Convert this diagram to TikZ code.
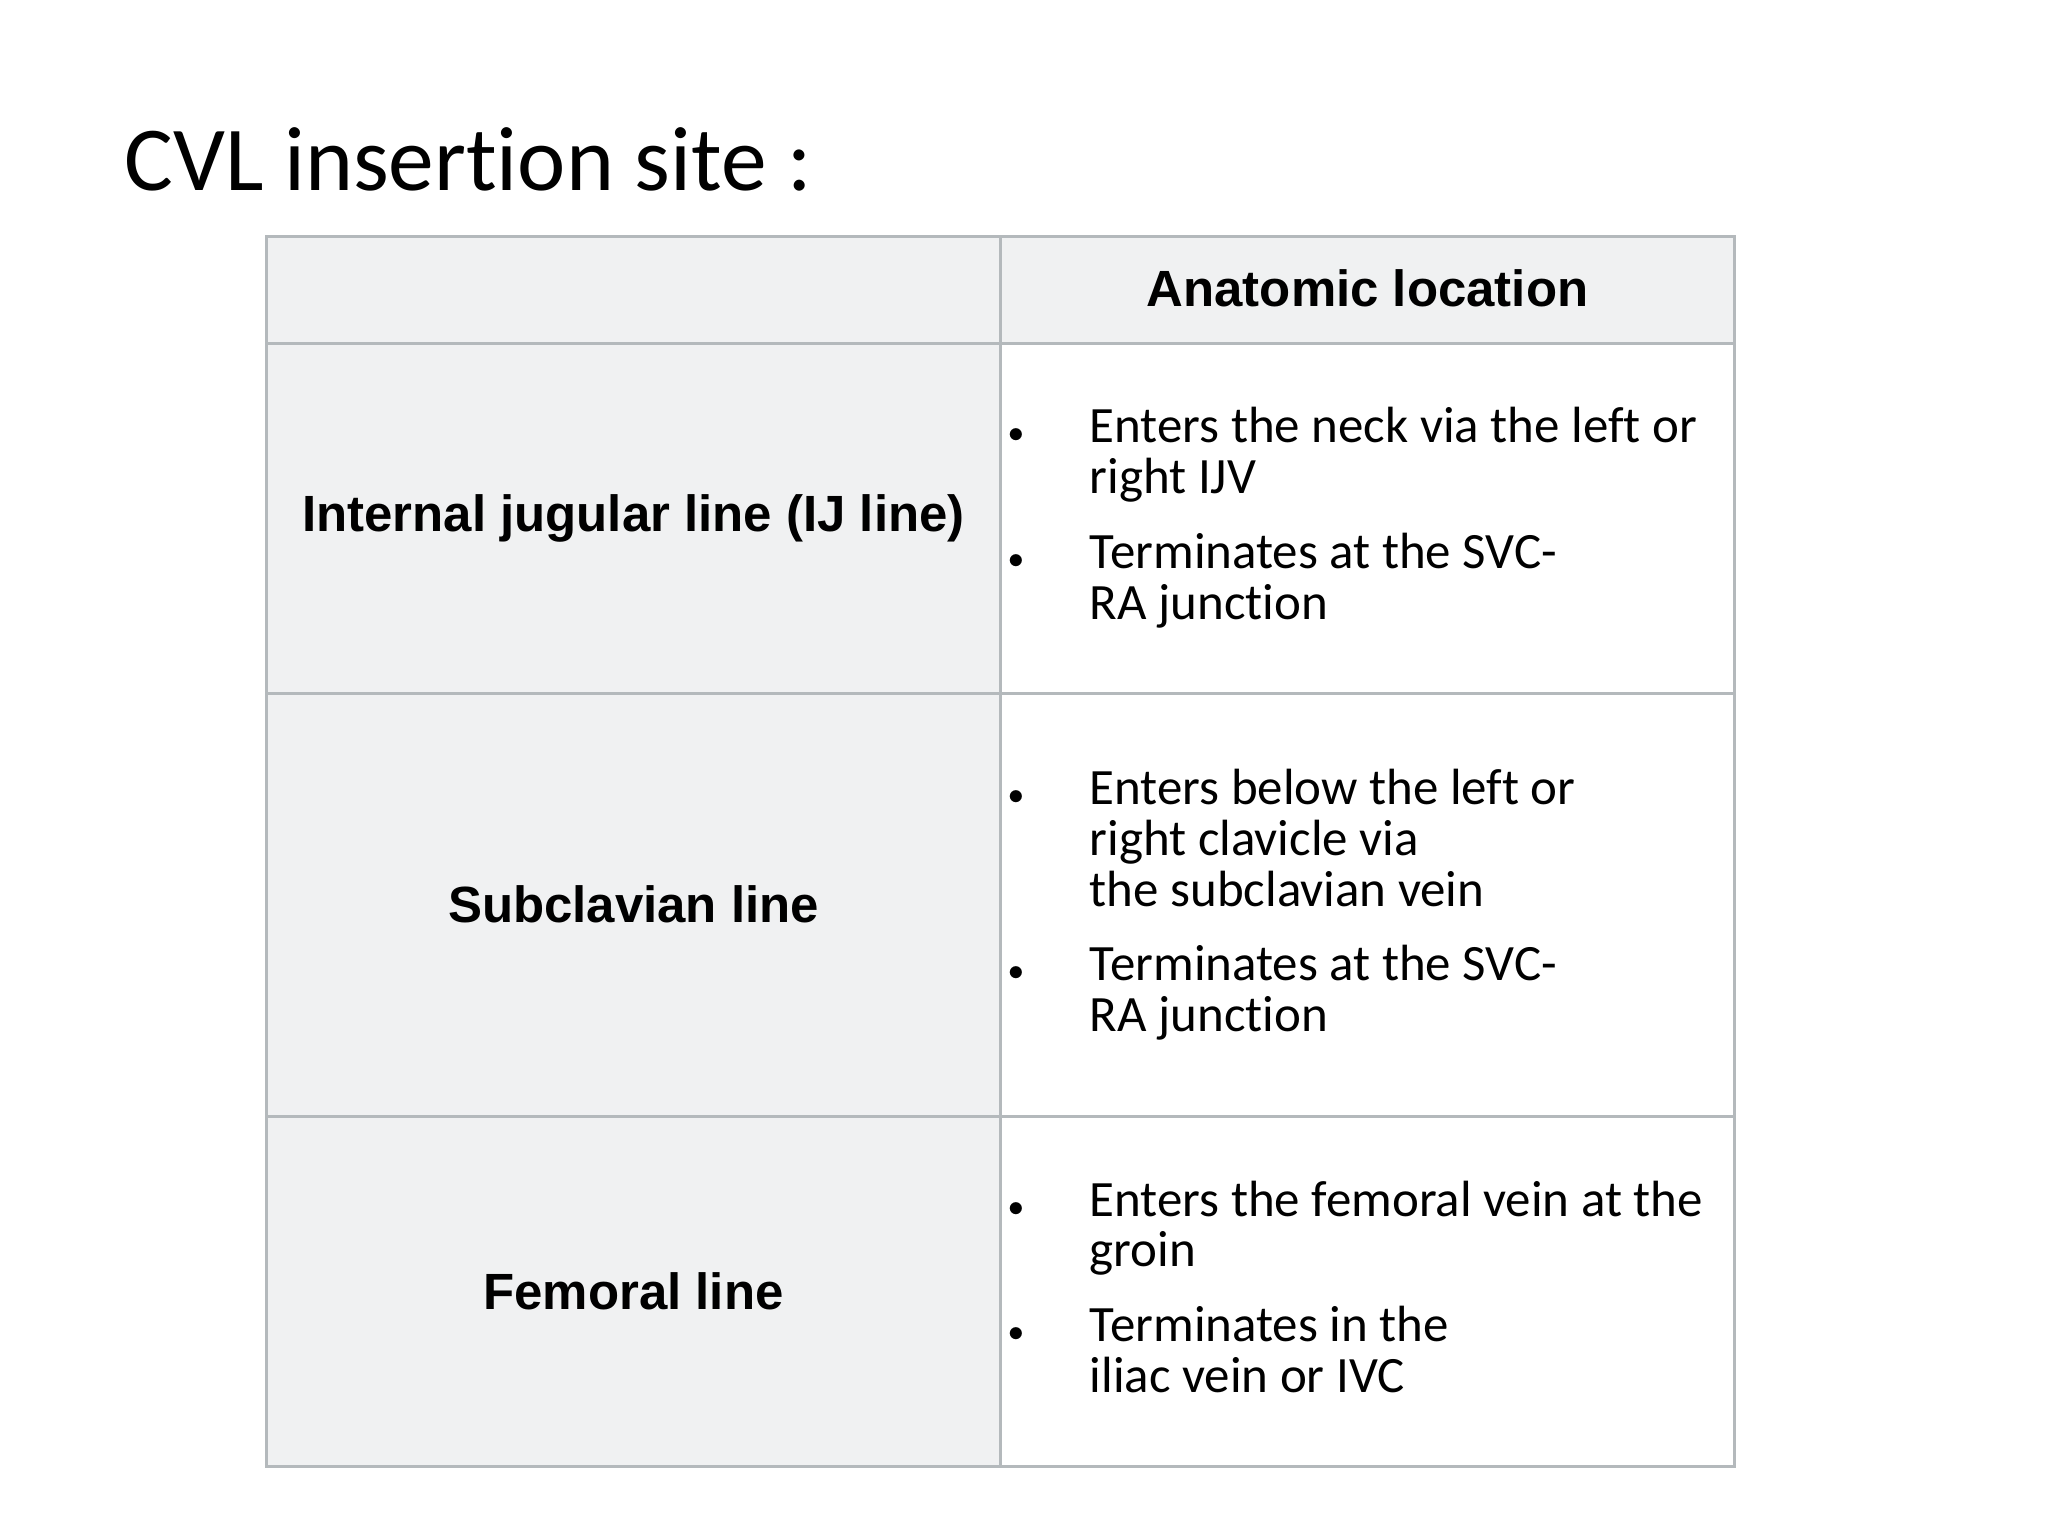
\documentclass[tikz,border=0pt]{standalone}
\usepackage{fontspec}
\setmainfont{Carlito}[Ligatures={NoCommon}]
\newfontfamily\arial{Liberation Sans}
\definecolor{cellgray}{HTML}{F0F1F2}
\definecolor{rule}{HTML}{B4B9BC}
\newcommand\twoln[2]{\vtop{\hbox{#1}\hbox{#2}}}
\newcommand\threeln[3]{\vtop{\hbox{#1}\hbox{#2}\hbox{#3}}}
\begin{document}
\begin{tikzpicture}[x=0.5pt,y=-0.5pt,
  lbl/.style={font=\arial\bfseries\fontsize{19.5}{23}\selectfont,anchor=center},
  itm/.style={font=\fontsize{19.5}{19.5}\selectfont,anchor=base west,inner sep=0pt},
  bul/.style={font=\fontsize{12}{14}\selectfont,anchor=base,inner sep=0pt}]
\useasboundingbox (0,0) rectangle (1568,1176);
\fill[white] (0,0) rectangle (1568,1176);
\fill[cellgray] (204,181) rectangle (1328,263);
\fill[cellgray] (204,263) rectangle (766,1123);
\draw[rule,line width=1pt] (204,181) rectangle (1328,1123);
\draw[rule,line width=1pt] (766,181) -- (766,1123);
\foreach \y in {263,531,855} \draw[rule,line width=1pt] (204,\y) -- (1328,\y);
\node[anchor=west,inner sep=0pt,font=\fontsize{35}{40}\selectfont] (title) at (95,122) {CVL insertion site :};
\node[lbl] (h) at (1047,221) {Anatomic location};
\node[lbl] (r1) at (485,397) {Internal jugular line (IJ line)};
\node[lbl] (r2) at (485,692) {Subclavian line};
\node[lbl] (r3) at (485,989) {Femoral line};
\foreach \yy/\t [count=\i] in {
  339/{\twoln{Enters the neck via the left or}{right IJV}},
  435/{\twoln{Terminates at the SVC-}{RA junction}},
  616/{\threeln{Enters below the left or}{right clavicle via}{the subclavian vein}},
  751/{\twoln{Terminates at the SVC-}{RA junction}},
  931/{\twoln{Enters the femoral vein at the}{groin}},
  1027/{\twoln{Terminates in the}{iliac vein or IVC}}}{
  \node[bul] (b\i) at (778,\yy) {$\bullet$};
  \node[itm] (t\i) at (834,\yy) {\t};
}
\end{tikzpicture}
\end{document}
